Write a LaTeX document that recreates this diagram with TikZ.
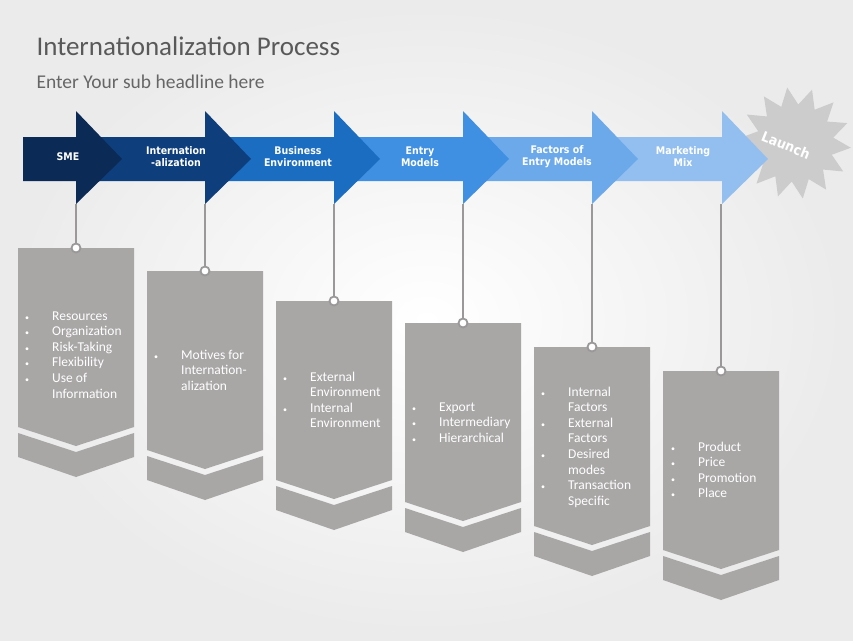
\documentclass[tikz,border=0pt]{standalone}
\usepackage{fontspec}
\setmainfont{Carlito}
\newfontfamily\arrowfont{DejaVu Sans Condensed}
\usetikzlibrary{shapes.geometric}
\definecolor{cardgray}{HTML}{A9A6A6}
\definecolor{lineGray}{HTML}{9A9898}
\definecolor{arrA}{HTML}{0B2A55}
\definecolor{arrB}{HTML}{0E3F7C}
\definecolor{arrC}{HTML}{1A6DC0}
\definecolor{arrD}{HTML}{3F8FE2}
\definecolor{arrE}{HTML}{6CA9EB}
\definecolor{arrF}{HTML}{93BFF0}
\begin{document}
\begin{tikzpicture}[x=1pt,y=-1pt,
  lbl/.style={text=white,font=\arrowfont\fontsize{10.5}{12}\selectfont\bfseries,align=center},
  pin/.style={draw=lineGray,line width=1.2pt},
  ring/.style={circle,draw=lineGray,fill=white,line width=1.8pt,minimum size=9pt,inner sep=0pt},
  txt/.style={text=white,anchor=north west,inner sep=0pt,font=\fontsize{13.5}{15.6}\selectfont}]
\useasboundingbox (0,0) rectangle (853,640);
\shade[inner color=white,outer color=black!8] (0,0) rectangle (853,640);
%Titles
\node[anchor=west,text=black!65,font=\fontsize{27}{30}\selectfont] (title) at (33,46) {Internationalization Process};
\node[anchor=west,text=black!60,font=\fontsize{19.5}{22}\selectfont] (sub) at (33,82) {Enter Your sub headline here};
%Launch
\node[star,star points=14,star point ratio=1.45,minimum size=112pt,fill=black!20,rotate=8] (launch) at (795,143) {};
\node[text=white,font=\arrowfont\fontsize{14}{16}\selectfont\bfseries,rotate=-22] (lt) at (786,145) {Launch};
%Arrows, right to left
\foreach \s/\b/\c in {593/722/arrF,463/592/arrE,334/463/arrD,205/334/arrC,76/205/arrB,23/76/arrA}
  \fill[\c] (\s,137) -- (\b,137) -- (\b,111) -- (\b+46,159) -- (\b,204) -- (\b,181) -- (\s,181) -- cycle;
%Labels
\node[lbl] (a1) at (68,157) {SME};
\node[lbl] (a2) at (176,157) {Internation\\-alization};
\node[lbl] (a3) at (298,157) {Business\\Environment};
\node[lbl] (a4) at (420,157) {Entry\\Models};
\node[lbl] (a5) at (557,157) {Factors of\\Entry Models};
\node[lbl] (a6) at (683,157) {Marketing\\Mix};
%Cards
\foreach \i/\x/\y in {1/18/248,2/147/271,3/276/301,4/405/323,5/534/347,6/663/371}{
  \fill[cardgray] (\x,\y) -- ++(116,0) -- ++(0,179) -- ++(-58,19) -- ++(-58,-19) -- cycle;
  \fill[cardgray] (\x,\y+185) -- ++(58,19) -- ++(58,-19) -- ++(0,24) -- ++(-58,20) -- ++(-58,-20) -- cycle;
  \coordinate (h\i) at (\x+58,204);
  \node[ring] (c\i) at (\x+58,\y) {};
  \draw[pin] (h\i) -- (c\i);
}
%Card texts
\node[txt] (t1) at (25,309) {\begin{tabular}{@{}p{27pt}@{}l@{}}\footnotesize•&Resources\\\footnotesize•&Organization\\\footnotesize•&Risk-Taking\\\footnotesize•&Flexibility\\\footnotesize•&Use of\\&Information\end{tabular}};
\node[txt] (t2) at (154,348) {\begin{tabular}{@{}p{27pt}@{}l@{}}\footnotesize•&Motives for\\&Internation-\\&alization\end{tabular}};
\node[txt] (t3) at (283,370) {\begin{tabular}{@{}p{27pt}@{}l@{}}\footnotesize•&External\\&Environment\\\footnotesize•&Internal\\&Environment\end{tabular}};
\node[txt] (t4) at (412,400) {\begin{tabular}{@{}p{27pt}@{}l@{}}\footnotesize•&Export\\\footnotesize•&Intermediary\\\footnotesize•&Hierarchical\end{tabular}};
\node[txt] (t5) at (541,385) {\begin{tabular}{@{}p{27pt}@{}l@{}}\footnotesize•&Internal\\&Factors\\\footnotesize•&External\\&Factors\\\footnotesize•&Desired\\&modes\\\footnotesize•&Transaction\\&Specific\end{tabular}};
\node[txt] (t6) at (671,440) {\begin{tabular}{@{}p{27pt}@{}l@{}}\footnotesize•&Product\\\footnotesize•&Price\\\footnotesize•&Promotion\\\footnotesize•&Place\end{tabular}};
\end{tikzpicture}
\end{document}
